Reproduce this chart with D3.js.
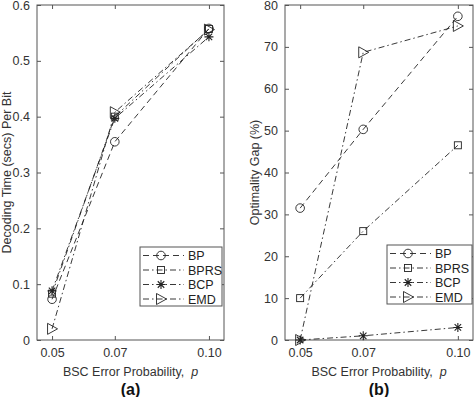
<!DOCTYPE html>
<html><head><meta charset="utf-8">
<script src="https://cdn.jsdelivr.net/npm/d3@7"></script>
<style>
html,body{margin:0;padding:0;background:#fff;}
svg{display:block;font-family:"Liberation Sans",Arial,sans-serif;}
</style></head>
<body>
<script>
const pValues = [0.05, 0.07, 0.10];
const xTickLabels = ["0.05", "0.07", "0.10"];
const seriesNames = ["BP", "BPRS", "BCP", "EMD"];
const markerTypes = ["circle", "square", "star", "triangle"];
const dashStyles = ["6,4", "6,3,1.5,3", "6,3,1.5,3", "6,3,1.5,3"];

// (a) Decoding time per bit
const timeBP   = [0.073, 0.355, 0.558];
const timeBPRS = [0.083, 0.400, 0.557];
const timeBCP  = [0.088, 0.397, 0.543];
const timeEMD  = [0.020, 0.408, 0.556];
const yTicksA = [0, 0.1, 0.2, 0.3, 0.4, 0.5, 0.6];

// (b) Optimality gap (%)
const gapBP   = [31.5, 50.3, 77.3];
const gapBPRS = [10.0, 26.0, 46.5];
const gapBCP  = [0.0, 1.0, 3.0];
const gapEMD  = [0.0, 68.7, 75.0];
const yTicksB = [0, 10, 20, 30, 40, 50, 60, 70, 80];

const W = 474, H = 397;
const svg = d3.select("body").append("svg").attr("width", W).attr("height", H);
const ink = "#222";
const axisCol = "#555";

function marker(g, type, x, y) {
  const s = g.append("g").attr("transform", `translate(${x},${y})`)
    .attr("fill", "none").attr("stroke", ink).attr("stroke-width", 0.9);
  if (type === "circle") s.append("circle").attr("r", 4.3);
  else if (type === "square") s.append("rect").attr("x", -3.5).attr("y", -3.5).attr("width", 7).attr("height", 7);
  else if (type === "star") {
    const r = 4.5, d = r * 0.72;
    s.append("path").attr("d", `M${-r},0L${r},0M0,${-r}L0,${r}M${-d},${-d}L${d},${d}M${-d},${d}L${d},${-d}`).attr("stroke-width", 1.1);
  } else if (type === "triangle") {
    s.append("path").attr("d", "M-4.5,-5.5L5.5,0L-4.5,5.5Z");
  }
}

function panel(opt) {
  const {left, right, top, bottom, yDomain, yTicks, yFmt, series, ylabel, tag, legend} = opt;
  const x = d3.scaleLinear().domain([0.0452, 0.1048]).range([left, right]);
  const y = d3.scaleLinear().domain(yDomain).range([bottom, top]);
  const g = svg.append("g");

  g.append("rect").attr("x", left).attr("y", top).attr("width", right - left).attr("height", bottom - top)
    .attr("fill", "none").attr("stroke", axisCol).attr("stroke-width", 1);

  const xb = d3.axisBottom(x).tickValues(pValues).tickFormat((d, i) => xTickLabels[i]).tickSizeInner(-4).tickSizeOuter(0).tickPadding(8);
  const xt = d3.axisTop(x).tickValues(pValues).tickFormat("").tickSizeInner(-4).tickSizeOuter(0);
  const yl = d3.axisLeft(y).tickValues(yTicks).tickFormat(yFmt).tickSizeInner(-4).tickSizeOuter(0).tickPadding(7);
  const yr = d3.axisRight(y).tickValues(yTicks).tickFormat("").tickSizeInner(-4).tickSizeOuter(0);
  [[xb, `translate(0,${bottom})`], [xt, `translate(0,${top})`], [yl, `translate(${left},0)`], [yr, `translate(${right},0)`]].forEach(([ax, tr]) => {
    const a = g.append("g").attr("transform", tr).call(ax);
    a.select(".domain").remove();
    a.selectAll("line").attr("stroke", axisCol);
    a.selectAll("text").attr("fill", "#333").style("font-size", "12.5px").style("font-family", '"Liberation Sans",Arial,sans-serif');
  });

  series.forEach((vals, si) => {
    const line = d3.line().x((d, i) => x(pValues[i])).y(d => y(d));
    g.append("path").attr("d", line(vals)).attr("fill", "none").attr("stroke", ink)
      .attr("stroke-width", 0.9).attr("stroke-dasharray", dashStyles[si]);
    vals.forEach((v, i) => marker(g, markerTypes[si], x(pValues[i]), y(v)));
  });

  g.append("text").attr("transform", `translate(${left - 26},${(top + bottom) / 2}) rotate(-90)`)
    .attr("text-anchor", "middle").attr("fill", "#333").style("font-size", "12.5px").text(ylabel);

  const xl = g.append("text").attr("x", (left + right) / 2).attr("y", 376).attr("text-anchor", "middle")
    .attr("fill", "#333").style("font-size", "12.5px");
  xl.append("tspan").text("BSC Error Probability,\u00a0\u00a0");
  xl.append("tspan").style("font-style", "italic").text("p");

  g.append("text").attr("x", (left + right) / 2).attr("y", 395).attr("text-anchor", "middle")
    .attr("fill", "#111").style("font-size", "16px").style("font-weight", "bold").text(tag);

  const lg = g.append("g");
  lg.append("rect").attr("x", legend.x).attr("y", legend.y).attr("width", legend.w).attr("height", legend.h)
    .attr("fill", "#fff").attr("stroke", axisCol).attr("stroke-width", 1);
  seriesNames.forEach((n, i) => {
    const ry = legend.y + 8.5 + i * 14.5;
    lg.append("line").attr("x1", legend.x + 3).attr("x2", legend.x + 44).attr("y1", ry).attr("y2", ry)
      .attr("stroke", ink).attr("stroke-width", 0.9).attr("stroke-dasharray", dashStyles[i]);
    marker(lg, markerTypes[i], legend.x + 21, ry);
    lg.append("text").attr("x", legend.x + 48).attr("y", ry + 4.5).attr("fill", "#222").style("font-size", "12.5px").text(n);
  });
}

panel({left: 37, right: 224, top: 5, bottom: 340, yDomain: [0, 0.6], yTicks: yTicksA,
  yFmt: d => d === 0 ? "0" : d3.format(".1f")(d),
  series: [timeBP, timeBPRS, timeBCP, timeEMD], ylabel: "Decoding Time (secs) Per Bit", tag: "(a)",
  legend: {x: 140, y: 247, w: 82, h: 59}});

panel({left: 285, right: 473, top: 5, bottom: 340, yDomain: [0, 80], yTicks: yTicksB,
  yFmt: d => String(d),
  series: [gapBP, gapBPRS, gapBCP, gapEMD], ylabel: "Optimality Gap (%)", tag: "(b)",
  legend: {x: 387, y: 245, w: 85, h: 59}});
</script>
</body></html>
